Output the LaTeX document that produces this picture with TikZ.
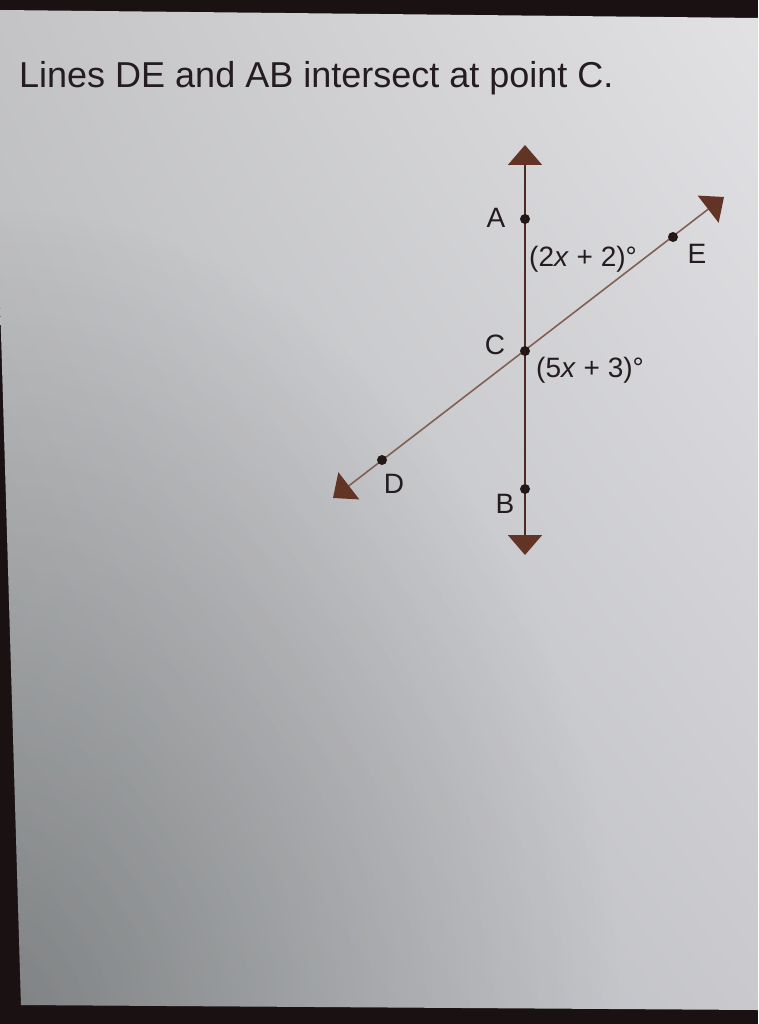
\documentclass[tikz,border=0pt]{standalone}
\usepackage{fontspec}
\setmainfont{Liberation Sans}
\usetikzlibrary{arrows.meta,fadings,shadings}
\tikzfading[name=glow, inner color=transparent!0, outer color=transparent!100]
\definecolor{ink}{RGB}{36,28,30}
\definecolor{brownline}{RGB}{78,42,32}
\definecolor{diagline}{RGB}{130,96,84}
\definecolor{tipbrown}{RGB}{98,52,38}
\definecolor{dotc}{RGB}{35,24,22}
\definecolor{bezel}{RGB}{26,18,18}
\definecolor{scrUL}{RGB}{196,196,198}
\definecolor{scrUR}{RGB}{226,226,229}
\definecolor{scrLL}{RGB}{175,179,181}
\definecolor{scrLR}{RGB}{200,200,205}
\begin{document}
\begin{tikzpicture}[x=1pt,y=-1pt,
  lbl/.style={font=\fontsize{28}{30}\selectfont, text=ink, inner sep=0pt, anchor=base},
  title/.style={font=\fontsize{36}{40}\selectfont, text=ink, inner sep=0pt, anchor=base west},
  pt/.style={circle, fill=dotc, inner sep=0pt, minimum size=10pt},
  vline/.style={draw=brownline, line width=2pt},
  dline/.style={draw=diagline, line width=1.6pt},
  ttip/.style={{Triangle[width=34pt,length=20pt,color=tipbrown]}-{Triangle[width=34pt,length=20pt,color=tipbrown]}}
]
% page and screen
\useasboundingbox (0,0) rectangle (758,1024);
\fill[bezel] (0,0) rectangle (758,1024);
\begin{scope}
  \clip (0,10) -- (758,18) -- (758,1010) -- (21,1005) -- (3,400) -- (0,300) -- cycle;
  \shade[upper left=scrUL, upper right=scrUR, lower left=scrLL, lower right=scrLR]
    (0,0) rectangle (758,1024);
  \fill[black, opacity=0.28, path fading=glow] (0,1024) ellipse [x radius=620, y radius=820];
\end{scope}

% title
\node[title] (ttl) at (19,88) {Lines DE and AB intersect at point C.};

% positions
\coordinate (Ap) at (525,219);
\coordinate (Cp) at (525,351);
\coordinate (Bp) at (525,489);
\coordinate (Ep) at (673,237);
\coordinate (Dp) at (382,460);
\coordinate (Atip) at (525,145);
\coordinate (Btip) at (525,555);
\coordinate (Etip) at (724,197);
\coordinate (Dtip) at (333,498);

% lines
\draw[dline, ttip] (Dtip) -- (Etip);
\draw[vline, ttip] (Btip) -- (Atip);

% points
\node[pt] (A) at (Ap) {};
\node[pt] (C) at (Cp) {};
\node[pt] (B) at (Bp) {};
\node[pt] (E) at (Ep) {};
\node[pt] (D) at (Dp) {};

% labels
\node[lbl] (lA) at (496,227) {A};
\node[lbl] (lC) at (495,354) {C};
\node[lbl] (lB) at (505,513) {B};
\node[lbl] (lE) at (697,263) {E};
\node[lbl] (lD) at (394,493) {D};
\node[lbl, anchor=base west] (ang1) at (529,266) {(2\textit{x} + 2)°};
\node[lbl, anchor=base west] (ang2) at (536,377) {(5\textit{x} + 3)°};
\end{tikzpicture}
\end{document}
